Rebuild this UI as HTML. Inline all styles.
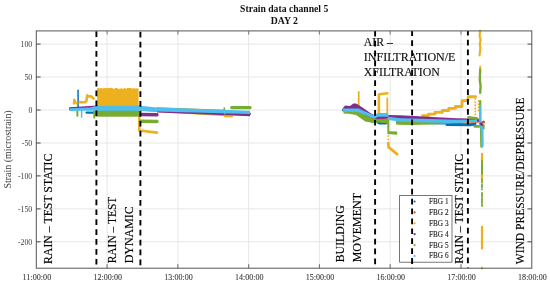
<!DOCTYPE html>
<html><head><meta charset="utf-8"><title>Strain data channel 5</title>
<style>html,body{margin:0;padding:0;background:#fff}body{width:550px;height:284px;overflow:hidden}</style></head>
<body>
<svg width="550" height="284" viewBox="0 0 550 284" style="display:block" font-family='"Liberation Serif","DejaVu Serif",serif'>
<rect width="550" height="284" fill="#fff"/>
<line x1="107.1" y1="30.9" x2="107.1" y2="268.2" stroke="#e6e6e6" stroke-width="1"/>
<line x1="177.9" y1="30.9" x2="177.9" y2="268.2" stroke="#e6e6e6" stroke-width="1"/>
<line x1="248.7" y1="30.9" x2="248.7" y2="268.2" stroke="#e6e6e6" stroke-width="1"/>
<line x1="319.4" y1="30.9" x2="319.4" y2="268.2" stroke="#e6e6e6" stroke-width="1"/>
<line x1="390.2" y1="30.9" x2="390.2" y2="268.2" stroke="#e6e6e6" stroke-width="1"/>
<line x1="461.0" y1="30.9" x2="461.0" y2="268.2" stroke="#e6e6e6" stroke-width="1"/>
<line x1="36.3" y1="44.1" x2="531.8" y2="44.1" stroke="#e6e6e6" stroke-width="1"/>
<line x1="36.3" y1="77.0" x2="531.8" y2="77.0" stroke="#e6e6e6" stroke-width="1"/>
<line x1="36.3" y1="110.0" x2="531.8" y2="110.0" stroke="#e6e6e6" stroke-width="1"/>
<line x1="36.3" y1="143.0" x2="531.8" y2="143.0" stroke="#e6e6e6" stroke-width="1"/>
<line x1="36.3" y1="175.9" x2="531.8" y2="175.9" stroke="#e6e6e6" stroke-width="1"/>
<line x1="36.3" y1="208.9" x2="531.8" y2="208.9" stroke="#e6e6e6" stroke-width="1"/>
<line x1="36.3" y1="241.8" x2="531.8" y2="241.8" stroke="#e6e6e6" stroke-width="1"/>
<text transform="translate(51.8,264.0) rotate(-90)" font-size="12.4" textLength="110.4" lengthAdjust="spacingAndGlyphs" fill="#000" stroke="#000" stroke-width="0.15">RAIN – TEST STATIC</text>
<text transform="translate(116.2,263.3) rotate(-90)" font-size="12.4" textLength="66.6" lengthAdjust="spacingAndGlyphs" fill="#000" stroke="#000" stroke-width="0.15">RAIN – TEST</text>
<text transform="translate(132.9,263.3) rotate(-90)" font-size="12.4" textLength="57" lengthAdjust="spacingAndGlyphs" fill="#000" stroke="#000" stroke-width="0.15">DYNAMIC</text>
<text transform="translate(344.4,262.3) rotate(-90)" font-size="12.4" textLength="57.2" lengthAdjust="spacingAndGlyphs" fill="#000" stroke="#000" stroke-width="0.15">BUILDING</text>
<text transform="translate(361.4,262.3) rotate(-90)" font-size="12.4" textLength="69.3" lengthAdjust="spacingAndGlyphs" fill="#000" stroke="#000" stroke-width="0.15">MOVEMENT</text>
<text transform="translate(463.4,263.8) rotate(-90)" font-size="12.4" textLength="110.0" lengthAdjust="spacingAndGlyphs" fill="#000" stroke="#000" stroke-width="0.15">RAIN – TEST STATIC</text>
<text transform="translate(523.9,264.2) rotate(-90)" font-size="12.4" textLength="166.8" lengthAdjust="spacingAndGlyphs" fill="#000" stroke="#000" stroke-width="0.15">WIND PRESSURE/DEPRESSURE</text>
<text x="363.8" y="46" font-size="12.2" stroke="#000" stroke-width="0.15" textLength="29" lengthAdjust="spacingAndGlyphs" fill="#111">AIR –</text>
<text x="363.8" y="61.3" font-size="12.2" stroke="#000" stroke-width="0.15" textLength="91.6" lengthAdjust="spacingAndGlyphs" fill="#111">INFILTRATION/E</text>
<text x="363.8" y="76.2" font-size="12.2" stroke="#000" stroke-width="0.15" textLength="76" lengthAdjust="spacingAndGlyphs" fill="#111">XFILTRATION</text>
<polyline points="70.0,109.8 77.8,109.5" fill="none" stroke="#0072BD" stroke-width="1.6" stroke-linejoin="round" stroke-linecap="round" />
<polyline points="78.1,90.3 78.1,108.0" fill="none" stroke="#0072BD" stroke-width="1.5" stroke-linejoin="round" stroke-linecap="round" />
<polyline points="86.5,112.6 94.3,112.6" fill="none" stroke="#0072BD" stroke-width="2.2" stroke-linejoin="round" stroke-linecap="round" />
<polyline points="140.0,110.0 250.0,114.0" fill="none" stroke="#0072BD" stroke-width="2" stroke-linejoin="round" stroke-linecap="round" />
<polyline points="70.0,108.6 97.0,107.2" fill="none" stroke="#D95319" stroke-width="1.6" stroke-linejoin="round" stroke-linecap="round" />
<polyline points="140.0,109.5 250.0,113.5" fill="none" stroke="#D95319" stroke-width="2" stroke-linejoin="round" stroke-linecap="round" />
<polyline points="73.9,103.7 74.2,99.5 75.2,101.5 76.5,103.5" fill="none" stroke="#EDB120" stroke-width="2.2" stroke-linejoin="round" stroke-linecap="round" />
<polyline points="79.5,102.3 85.0,102.3 86.4,101.0 87.2,95.4 89.0,96.5 91.0,96.2 93.6,98.4" fill="none" stroke="#EDB120" stroke-width="2.6" stroke-linejoin="round" stroke-linecap="round" />
<polygon points="97.1,109.0 97.1,88.2 98.4,87.9 99.7,88.6 101.0,87.8 102.3,88.5 103.6,88.2 104.9,87.8 106.2,88.4 107.5,87.8 108.8,88.3 110.1,87.8 111.4,87.8 112.7,88.3 114.0,88.9 115.3,87.9 116.6,88.0 117.9,88.6 119.2,89.0 120.5,88.5 121.8,88.3 123.1,89.1 124.4,87.8 125.7,88.9 127.0,88.1 128.3,87.9 129.6,87.9 130.9,88.1 132.2,88.8 133.5,88.0 134.8,88.5 136.1,88.6 137.4,88.2 138.6,88.4 138.6,109.0" fill="#EDB120"/>
<polyline points="139.3,106.0 139.3,130.5 157.0,132.6" fill="none" stroke="#EDB120" stroke-width="2.6" stroke-linejoin="round" stroke-linecap="round" />
<polyline points="157.0,111.0 225.0,115.2" fill="none" stroke="#EDB120" stroke-width="2.2" stroke-linejoin="round" stroke-linecap="round" />
<polyline points="225.0,116.2 232.0,116.5" fill="none" stroke="#EDB120" stroke-width="2.0" stroke-linejoin="round" stroke-linecap="round" />
<polyline points="70.0,108.4 97.0,106.6" fill="none" stroke="#7E2F8E" stroke-width="2.2" stroke-linejoin="round" stroke-linecap="round" />
<polyline points="140.5,114.5 157.0,114.7" fill="none" stroke="#7E2F8E" stroke-width="3.4" stroke-linejoin="round" stroke-linecap="round" />
<polygon points="157.0,109.0 250.0,112.5 250.0,116.2 157.0,112.5" fill="#7E2F8E"/>
<polyline points="77.4,110.8 77.4,115.7" fill="none" stroke="#77AC30" stroke-width="2.0" stroke-linejoin="round" stroke-linecap="round" />
<polyline points="94.3,110.8 94.3,117.6" fill="none" stroke="#77AC30" stroke-width="2.0" stroke-linejoin="round" stroke-linecap="round" />
<rect x="95.5" y="110.0" width="44.0" height="6.7" fill="#77AC30"/>
<polyline points="140.5,121.3 157.0,121.5" fill="none" stroke="#77AC30" stroke-width="3.4" stroke-linejoin="round" stroke-linecap="round" />
<polyline points="157.0,108.0 224.0,110.4 224.3,108.0 224.6,114.0 225.0,111.0 231.0,111.0" fill="none" stroke="#77AC30" stroke-width="1.5" stroke-linejoin="round" stroke-linecap="round" />
<polyline points="231.7,107.6 250.0,107.6" fill="none" stroke="#77AC30" stroke-width="3.2" stroke-linejoin="round" stroke-linecap="round" />
<polyline points="81.6,109.0 81.6,117.0" fill="none" stroke="#4DBEEE" stroke-width="1.5" stroke-linejoin="round" stroke-linecap="round" />
<polygon points="69.6,108.2 90.0,107.6 97.0,105.8 140.0,105.8 157.0,107.5 250.0,110.7 250.0,114.0 157.0,111.4 140.0,110.8 97.0,110.8 69.6,110.8" fill="#4DBEEE"/>
<polyline points="343.5,110.0 358.0,111.0 375.0,120.0 379.4,122.8 386.0,122.8" fill="none" stroke="#0072BD" stroke-width="3.2" stroke-linejoin="round" stroke-linecap="round" />
<polyline points="397.0,122.5 447.0,123.6" fill="none" stroke="#0072BD" stroke-width="2" stroke-linejoin="round" stroke-linecap="round" />
<polyline points="447.0,124.6 470.0,124.8 475.0,124.0" fill="none" stroke="#0072BD" stroke-width="3.0" stroke-linejoin="round" stroke-linecap="round" />
<polyline points="343.5,110.0 358.0,110.5 365.0,116.0 374.5,119.3 379.0,119.0 386.0,119.0" fill="none" stroke="#D95319" stroke-width="2.0" stroke-linejoin="round" stroke-linecap="round" />
<polyline points="397.0,121.0 478.0,122.0" fill="none" stroke="#D95319" stroke-width="1.6" stroke-linejoin="round" stroke-linecap="round" />
<polyline points="343.5,109.0 358.0,109.5" fill="none" stroke="#EDB120" stroke-width="1.6" stroke-linejoin="round" stroke-linecap="round" />
<polyline points="358.7,92.0 358.7,108.0" fill="none" stroke="#EDB120" stroke-width="1.8" stroke-linejoin="round" stroke-linecap="round" />
<polyline points="375.0,117.0 378.4,114.0" fill="none" stroke="#EDB120" stroke-width="1.6" stroke-linejoin="round" stroke-linecap="round" />
<polyline points="378.9,114.0 378.9,94.6 381.0,94.0 387.4,93.3" fill="none" stroke="#EDB120" stroke-width="2.6" stroke-linejoin="round" stroke-linecap="round" />
<polyline points="387.3,98.5 387.3,113.3" fill="none" stroke="#EDB120" stroke-width="1.8" stroke-linejoin="round" stroke-linecap="round" />
<polyline points="388.3,136.0 388.3,143.0" fill="none" stroke="#EDB120" stroke-width="1.8" stroke-linejoin="round" stroke-linecap="round" stroke-dasharray="0.1 3.2"/>
<polyline points="388.3,143.2 388.5,147.2 397.2,154.2" fill="none" stroke="#EDB120" stroke-width="2.8" stroke-linejoin="round" stroke-linecap="round" />
<polyline points="422.6,115.6 428.5,115.6 428.5,114.1 435.0,114.1 435.0,112.4 442.3,112.4 442.3,110.5 448.8,110.5 448.8,108.4 455.4,108.4 455.4,106.5 461.9,106.5 462.2,100.6 467.7,100.6 468.3,96.7 475.6,96.7" fill="none" stroke="#EDB120" stroke-width="2.9" stroke-linejoin="round" stroke-linecap="round" stroke-linecap="butt" stroke-linejoin="miter"/>
<polyline points="475.3,99.0 475.3,118.0" fill="none" stroke="#EDB120" stroke-width="1.9" stroke-linejoin="round" stroke-linecap="round" stroke-dasharray="0.1 3.0"/>
<polyline points="478.7,101.0 478.7,111.0" fill="none" stroke="#EDB120" stroke-width="1.9" stroke-linejoin="round" stroke-linecap="round" stroke-dasharray="0.1 3.0"/>
<polyline points="480.0,30.8 479.6,36.0 480.6,40.0 479.8,44.0 480.4,48.0 479.6,55.4" fill="none" stroke="#EDB120" stroke-width="2.2" stroke-linejoin="round" stroke-linecap="round" />
<polyline points="480.2,66.8 480.2,69.6" fill="none" stroke="#EDB120" stroke-width="2.0" stroke-linejoin="round" stroke-linecap="round" />
<polyline points="482.0,153.8 482.0,161.0" fill="none" stroke="#EDB120" stroke-width="2.2" stroke-linejoin="round" stroke-linecap="round" />
<polyline points="482.0,173.8 482.0,179.3" fill="none" stroke="#EDB120" stroke-width="2.2" stroke-linejoin="round" stroke-linecap="round" />
<polyline points="482.0,226.8 482.0,248.5" fill="none" stroke="#EDB120" stroke-width="2.2" stroke-linejoin="round" stroke-linecap="round" />
<polyline points="482.0,267.6 482.0,268.4" fill="none" stroke="#EDB120" stroke-width="2.0" stroke-linejoin="round" stroke-linecap="round" />
<polygon points="342.9,108.0 345.1,105.6 350.0,106.0 353.3,103.6 356.0,103.4 358.7,105.0 365.3,109.4 370.7,113.3 374.5,115.2 378.0,114.5 388.5,115.0 400.0,115.3 456.0,118.2 478.0,118.6 483.0,123.0 482.0,125.3 478.0,121.5 456.0,120.6 400.0,119.3 388.0,118.5 375.0,119.0 358.0,110.0 346.0,109.6 345.4,113.3 344.6,113.3 343.5,110.0" fill="#7E2F8E"/>
<polygon points="343.5,110.0 358.0,111.0 365.0,115.0 374.5,119.5 387.3,119.0 389.3,119.0 389.3,131.2 397.2,131.5 397.2,134.7 387.4,134.0 387.2,123.3 378.0,122.5 374.5,123.3 365.3,121.6 356.0,115.0 349.0,113.8 343.5,113.5" fill="#77AC30"/>
<polygon points="396.4,121.0 412.0,121.3 440.0,122.2 452.0,122.8 452.0,123.4 440.0,124.2 412.0,125.0 396.4,124.8" fill="#77AC30"/>
<polyline points="468.4,117.2 477.2,118.4" fill="none" stroke="#77AC30" stroke-width="2.5" stroke-linejoin="round" stroke-linecap="round" />
<polyline points="474.8,126.3 479.2,126.3" fill="none" stroke="#77AC30" stroke-width="2.8" stroke-linejoin="round" stroke-linecap="round" />
<polyline points="483.4,125.3 483.4,128.3" fill="none" stroke="#77AC30" stroke-width="2.4" stroke-linejoin="round" stroke-linecap="round" />
<polyline points="480.2,69.6 479.8,80.0 480.6,86.0 480.2,92.9" fill="none" stroke="#77AC30" stroke-width="2.4" stroke-linejoin="round" stroke-linecap="round" />
<polyline points="480.2,101.0 480.2,106.3" fill="none" stroke="#77AC30" stroke-width="2.2" stroke-linejoin="round" stroke-linecap="round" />
<polyline points="481.2,127.0 481.5,146.6" fill="none" stroke="#77AC30" stroke-width="2.6" stroke-linejoin="round" stroke-linecap="round" />
<polyline points="482.0,161.0 482.0,173.8" fill="none" stroke="#77AC30" stroke-width="2.0" stroke-linejoin="round" stroke-linecap="round" />
<polyline points="482.0,179.3 482.0,189.4" fill="none" stroke="#77AC30" stroke-width="1.8" stroke-linejoin="round" stroke-linecap="round" stroke-dasharray="3.2 1.8"/>
<polyline points="482.0,193.0 482.0,206.0" fill="none" stroke="#77AC30" stroke-width="1.8" stroke-linejoin="round" stroke-linecap="round" stroke-dasharray="4 1.4"/>
<polygon points="342.9,108.4 358.7,108.4 365.3,111.6 374.5,115.6 377.8,112.9 388.2,112.9 388.6,116.7 400.0,118.3 456.0,119.8 477.0,119.6 477.0,122.3 468.0,122.0 456.0,123.3 400.0,121.8 388.6,120.0 388.2,116.7 377.8,116.7 374.5,118.9 365.3,114.9 358.7,112.2 342.9,111.6" fill="#4DBEEE"/>
<polyline points="480.2,106.3 480.4,125.0 482.2,130.0 482.4,146.0" fill="none" stroke="#4DBEEE" stroke-width="2.6" stroke-linejoin="round" stroke-linecap="round" />
<circle cx="483.5" cy="122" r="1.6" fill="#D95319"/>
<polyline points="480.6,123.6 482.0,125.0" fill="none" stroke="#7E2F8E" stroke-width="2.2" stroke-linejoin="round" stroke-linecap="round" />
<line x1="96.4" y1="268.2" x2="96.4" y2="30.9" stroke="#000" stroke-width="1.9" stroke-dasharray="5.7 4.2" stroke-dashoffset="6.30"/>
<line x1="140.4" y1="268.2" x2="140.4" y2="30.9" stroke="#000" stroke-width="1.9" stroke-dasharray="5.7 4.2" stroke-dashoffset="6.90"/>
<line x1="375.1" y1="268.2" x2="375.1" y2="30.9" stroke="#000" stroke-width="1.9" stroke-dasharray="5.7 4.2" stroke-dashoffset="5.90"/>
<line x1="412.1" y1="268.2" x2="412.1" y2="30.9" stroke="#000" stroke-width="1.9" stroke-dasharray="5.7 4.2" stroke-dashoffset="5.50"/>
<line x1="467.9" y1="268.2" x2="467.9" y2="30.9" stroke="#000" stroke-width="1.9" stroke-dasharray="5.7 4.2" stroke-dashoffset="4.90"/>
<rect x="399.6" y="195.5" width="52.4" height="66.7" fill="#fff" stroke="#555" stroke-width="0.8"/>
<circle cx="414.6" cy="201.5" r="1.1" fill="#0072BD"/>
<text x="429" y="203.9" font-size="7.2" textLength="19.5" lengthAdjust="spacingAndGlyphs" fill="#222" stroke="#222" stroke-width="0.12">FBG 1</text>
<circle cx="414.6" cy="212.4" r="1.1" fill="#D95319"/>
<text x="429" y="214.8" font-size="7.2" textLength="19.5" lengthAdjust="spacingAndGlyphs" fill="#222" stroke="#222" stroke-width="0.12">FBG 2</text>
<circle cx="414.6" cy="223.3" r="1.1" fill="#EDB120"/>
<text x="429" y="225.7" font-size="7.2" textLength="19.5" lengthAdjust="spacingAndGlyphs" fill="#222" stroke="#222" stroke-width="0.12">FBG 3</text>
<circle cx="414.6" cy="234.2" r="1.1" fill="#7E2F8E"/>
<text x="429" y="236.6" font-size="7.2" textLength="19.5" lengthAdjust="spacingAndGlyphs" fill="#222" stroke="#222" stroke-width="0.12">FBG 4</text>
<circle cx="414.6" cy="245.1" r="1.1" fill="#77AC30"/>
<text x="429" y="247.5" font-size="7.2" textLength="19.5" lengthAdjust="spacingAndGlyphs" fill="#222" stroke="#222" stroke-width="0.12">FBG 5</text>
<circle cx="414.6" cy="256.0" r="1.1" fill="#4DBEEE"/>
<text x="429" y="258.4" font-size="7.2" textLength="19.5" lengthAdjust="spacingAndGlyphs" fill="#222" stroke="#222" stroke-width="0.12">FBG 6</text>
<line x1="412.1" y1="268.2" x2="412.1" y2="195" stroke="#000" stroke-width="1.9" stroke-dasharray="5.7 4.2" stroke-dashoffset="5.50"/>
<rect x="36.3" y="30.9" width="495.5" height="237.3" fill="none" stroke="#555" stroke-width="1"/>
<line x1="107.1" y1="268.2" x2="107.1" y2="264.2" stroke="#5a5a5a" stroke-width="0.9"/>
<line x1="107.1" y1="30.9" x2="107.1" y2="34.5" stroke="#6a6a6a" stroke-width="0.9"/>
<line x1="177.9" y1="268.2" x2="177.9" y2="264.2" stroke="#5a5a5a" stroke-width="0.9"/>
<line x1="177.9" y1="30.9" x2="177.9" y2="34.5" stroke="#6a6a6a" stroke-width="0.9"/>
<line x1="248.7" y1="268.2" x2="248.7" y2="264.2" stroke="#5a5a5a" stroke-width="0.9"/>
<line x1="248.7" y1="30.9" x2="248.7" y2="34.5" stroke="#6a6a6a" stroke-width="0.9"/>
<line x1="319.4" y1="268.2" x2="319.4" y2="264.2" stroke="#5a5a5a" stroke-width="0.9"/>
<line x1="319.4" y1="30.9" x2="319.4" y2="34.5" stroke="#6a6a6a" stroke-width="0.9"/>
<line x1="390.2" y1="268.2" x2="390.2" y2="264.2" stroke="#5a5a5a" stroke-width="0.9"/>
<line x1="390.2" y1="30.9" x2="390.2" y2="34.5" stroke="#6a6a6a" stroke-width="0.9"/>
<line x1="461.0" y1="268.2" x2="461.0" y2="264.2" stroke="#5a5a5a" stroke-width="0.9"/>
<line x1="461.0" y1="30.9" x2="461.0" y2="34.5" stroke="#6a6a6a" stroke-width="0.9"/>
<line x1="36.3" y1="44.1" x2="40.599999999999994" y2="44.1" stroke="#484848" stroke-width="1"/>
<line x1="531.8" y1="44.1" x2="527.5" y2="44.1" stroke="#484848" stroke-width="1"/>
<text x="20.5" y="47.0" font-size="9" textLength="11.8" lengthAdjust="spacingAndGlyphs" fill="#3c3c3c">100</text>
<line x1="36.3" y1="77.0" x2="40.599999999999994" y2="77.0" stroke="#484848" stroke-width="1"/>
<line x1="531.8" y1="77.0" x2="527.5" y2="77.0" stroke="#484848" stroke-width="1"/>
<text x="24.4" y="79.9" font-size="9" textLength="7.9" lengthAdjust="spacingAndGlyphs" fill="#3c3c3c">50</text>
<line x1="36.3" y1="110.0" x2="40.599999999999994" y2="110.0" stroke="#484848" stroke-width="1"/>
<line x1="531.8" y1="110.0" x2="527.5" y2="110.0" stroke="#484848" stroke-width="1"/>
<text x="28.4" y="112.9" font-size="9" textLength="3.9" lengthAdjust="spacingAndGlyphs" fill="#3c3c3c">0</text>
<line x1="36.3" y1="143.0" x2="40.599999999999994" y2="143.0" stroke="#484848" stroke-width="1"/>
<line x1="531.8" y1="143.0" x2="527.5" y2="143.0" stroke="#484848" stroke-width="1"/>
<text x="21.8" y="145.9" font-size="9" textLength="10.5" lengthAdjust="spacingAndGlyphs" fill="#3c3c3c">-50</text>
<line x1="36.3" y1="175.9" x2="40.599999999999994" y2="175.9" stroke="#484848" stroke-width="1"/>
<line x1="531.8" y1="175.9" x2="527.5" y2="175.9" stroke="#484848" stroke-width="1"/>
<text x="17.9" y="178.8" font-size="9" textLength="14.4" lengthAdjust="spacingAndGlyphs" fill="#3c3c3c">-100</text>
<line x1="36.3" y1="208.9" x2="40.599999999999994" y2="208.9" stroke="#484848" stroke-width="1"/>
<line x1="531.8" y1="208.9" x2="527.5" y2="208.9" stroke="#484848" stroke-width="1"/>
<text x="17.9" y="211.8" font-size="9" textLength="14.4" lengthAdjust="spacingAndGlyphs" fill="#3c3c3c">-150</text>
<line x1="36.3" y1="241.8" x2="40.599999999999994" y2="241.8" stroke="#484848" stroke-width="1"/>
<line x1="531.8" y1="241.8" x2="527.5" y2="241.8" stroke="#484848" stroke-width="1"/>
<text x="17.9" y="244.7" font-size="9" textLength="14.4" lengthAdjust="spacingAndGlyphs" fill="#3c3c3c">-200</text>
<text x="22.6" y="279.7" font-size="9" textLength="28.6" stroke="#3c3c3c" stroke-width="0.12" lengthAdjust="spacingAndGlyphs" fill="#3c3c3c">11:00:00</text>
<text x="93.4" y="279.7" font-size="9" textLength="28.6" stroke="#3c3c3c" stroke-width="0.12" lengthAdjust="spacingAndGlyphs" fill="#3c3c3c">12:00:00</text>
<text x="164.2" y="279.7" font-size="9" textLength="28.6" stroke="#3c3c3c" stroke-width="0.12" lengthAdjust="spacingAndGlyphs" fill="#3c3c3c">13:00:00</text>
<text x="235.0" y="279.7" font-size="9" textLength="28.6" stroke="#3c3c3c" stroke-width="0.12" lengthAdjust="spacingAndGlyphs" fill="#3c3c3c">14:00:00</text>
<text x="305.7" y="279.7" font-size="9" textLength="28.6" stroke="#3c3c3c" stroke-width="0.12" lengthAdjust="spacingAndGlyphs" fill="#3c3c3c">15:00:00</text>
<text x="376.5" y="279.7" font-size="9" textLength="28.6" stroke="#3c3c3c" stroke-width="0.12" lengthAdjust="spacingAndGlyphs" fill="#3c3c3c">16:00:00</text>
<text x="447.3" y="279.7" font-size="9" textLength="28.6" stroke="#3c3c3c" stroke-width="0.12" lengthAdjust="spacingAndGlyphs" fill="#3c3c3c">17:00:00</text>
<text x="518.1" y="279.7" font-size="9" textLength="28.6" stroke="#3c3c3c" stroke-width="0.12" lengthAdjust="spacingAndGlyphs" fill="#3c3c3c">18:00:00</text>
<text transform="translate(11.4,188.6) rotate(-90)" font-size="9.5" textLength="78.3" lengthAdjust="spacingAndGlyphs" fill="#3c3c3c">Strain (microstrain)</text>
<text x="240.1" y="11.8" font-size="9.6" font-weight="bold" textLength="88.2" lengthAdjust="spacingAndGlyphs" fill="#111">Strain data channel 5</text>
<text x="270.8" y="24.3" font-size="9.6" font-weight="bold" textLength="27.2" lengthAdjust="spacingAndGlyphs" fill="#111">DAY 2</text>
</svg>
</body></html>
